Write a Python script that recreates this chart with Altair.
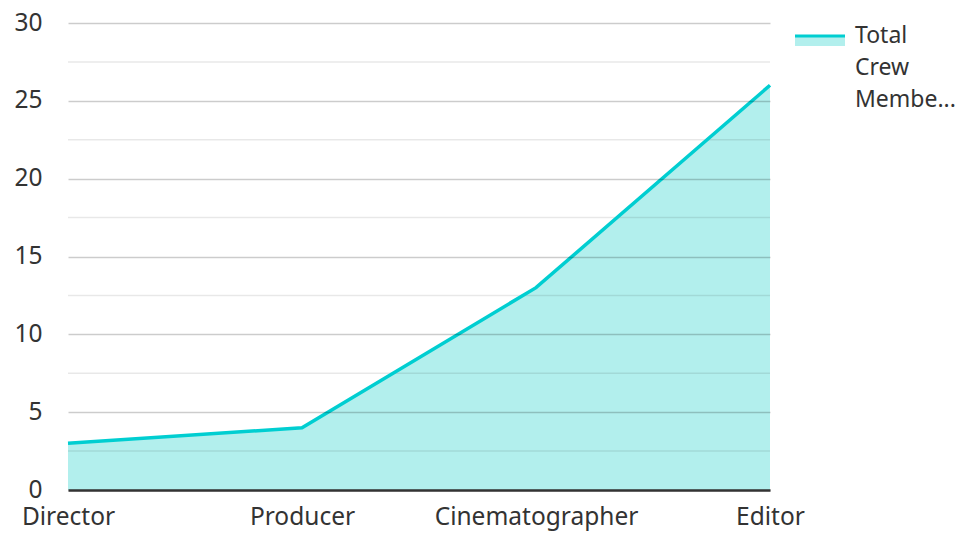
import altair as alt
import pandas as pd

roles = ["Director", "Producer", "Cinematographer", "Editor"]
crew = [3, 4, 13, 26]
series_name = "Total Crew Members"
legend_lines = ["Total", "Crew", "Membe..."]
minor_ticks = [2.5, 7.5, 12.5, 17.5, 22.5, 27.5]

df = pd.DataFrame({"role": roles, "crew": crew, "series": series_name})
minor_df = pd.DataFrame({"v": minor_ticks})

FONT = "Noto Sans"
TEAL = "#00CED1"
LIGHT = "#B2EFED"
FS = 24.5
LEG_FS = 23

x_enc = alt.X("role:N", sort=roles, scale=alt.Scale(type="point", padding=0),
              axis=alt.Axis(title=None, labelAngle=0, ticks=False, labelPadding=15,
                            labelLimit=0, labelFontSize=FS, labelColor="#333", labelFont=FONT,
                            domainColor="#333", domainWidth=2.5, grid=False, zindex=2))
y_enc = alt.Y("crew:Q", scale=alt.Scale(domain=[0, 30], nice=False),
              axis=alt.Axis(title=None, values=[0, 5, 10, 15, 20, 25, 30],
                            ticks=False, domain=False, labelPadding=26,
                            labelFontSize=FS, labelColor="#333", labelFont=FONT,
                            gridColor="#000", gridOpacity=0.2, gridWidth=1.5, zindex=1))

base = alt.Chart(df)
area = base.mark_area(color=LIGHT, opacity=1).encode(x=x_enc, y=y_enc)
minor = alt.Chart(minor_df).mark_rule(color="#000", opacity=0.09, strokeWidth=1.5).encode(
    y=alt.Y("v:Q"), x=alt.value(0), x2=alt.value(702))
line = base.mark_line(color=TEAL, strokeWidth=3.5).encode(
    x=alt.X("role:N", sort=roles), y="crew:Q")

leg_df = pd.DataFrame({"series": [series_name]})
leg_rect = alt.Chart(leg_df).mark_rect(color=LIGHT).encode(
    x=alt.value(727), x2=alt.value(777), y=alt.value(13), y2=alt.value(23))
leg_rule = alt.Chart(leg_df).mark_rule(color=TEAL, strokeWidth=3).encode(
    x=alt.value(727), x2=alt.value(777), y=alt.value(13))
leg_text = alt.Chart(leg_df).mark_text(
    align="left", baseline="middle", fontSize=LEG_FS, font=FONT, color="#333", lineHeight=32
).encode(x=alt.value(787), y=alt.value(13), text=alt.value(legend_lines))

chart = alt.layer(area, minor, line, leg_rect, leg_rule, leg_text).properties(
    width=702, height=467,
    background="white",
    autosize=alt.AutoSizeParams(type="none"),
    padding={"left": 60, "top": 15, "right": 186, "bottom": 42},
).configure_view(strokeWidth=0, stroke="transparent")

chart.save("out.html", embed_options={"renderer": "svg", "actions": False})
